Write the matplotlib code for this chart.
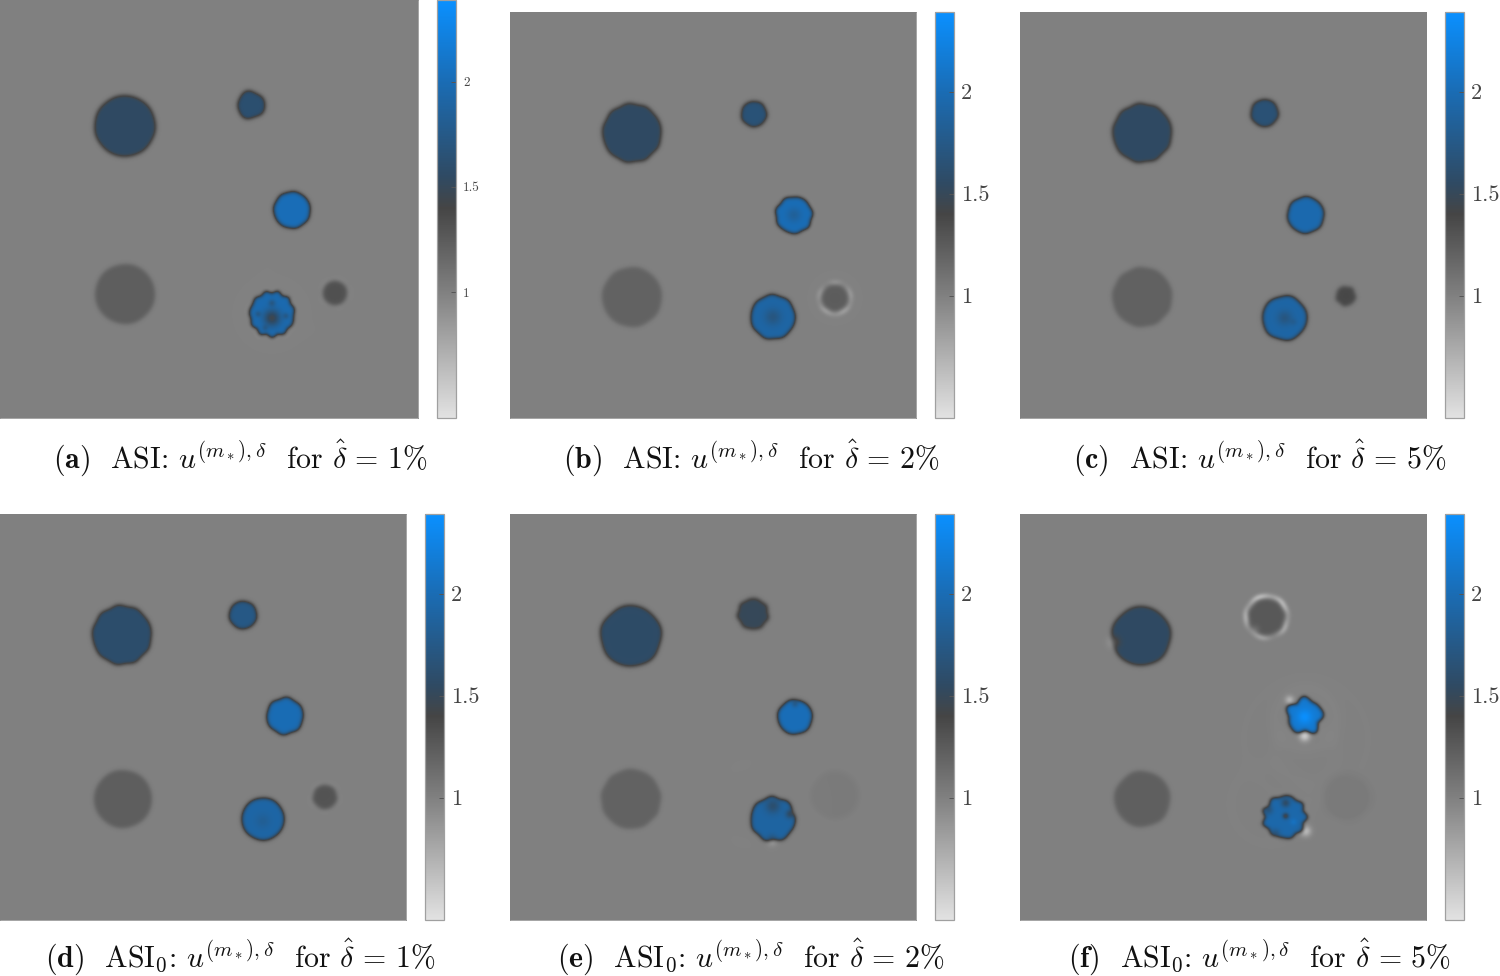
import numpy as np
import matplotlib
matplotlib.use('Agg')
import matplotlib.pyplot as plt
from matplotlib.colors import LinearSegmentedColormap, Normalize
from matplotlib.cm import ScalarMappable

plt.rcParams['mathtext.fontset'] = 'cm'

# colour scale
vmin, vmax = 0.40, 2.39
cmap_values = [0.40, 1.0, 1.40, 1.55, 2.0, 2.39]
cmap_colors = ['#e2e2e2', '#808080', '#454545', '#2f4a63', '#1a6cb4', '#0a90ff']
cbar_ticks = [1, 1.5, 2]
cbar_labels = ['1', '1.5', '2']
background = 1.0

# blobs: cx, cy, radius, value, wobble amplitude, wobble count, white-ring strength (image pixels)
blobs_a = [(125, 126, 31, 1.55, .004, 7, 0), (251, 105, 14, 1.62, .05, 3, 0), (292, 210, 18, 2.02, .01, 7, 0),
           (125, 294, 30, 1.23, .005, 5, 0), (272, 314, 22, 1.98, .035, 11, .05), (335, 293, 12, 1.32, .005, 4, .03)]
blobs_b = [(122, 121, 30, 1.55, .012, 9, 0), (244, 102, 13, 1.66, .015, 5, 0), (284, 203, 18, 2.02, .025, 7, .03),
           (122, 285, 30, 1.20, .006, 7, 0), (263, 305, 22, 1.92, .015, 7, 0), (325, 286, 13, 1.24, .012, 5, .22)]
blobs_c = [(122, 121, 30, 1.55, .012, 9, 0), (244, 101, 14, 1.65, .015, 5, 0), (285, 203, 18, 1.97, .015, 6, 0),
           (122, 285, 30, 1.21, .008, 9, 0), (264, 306, 22, 1.92, .018, 5, 0), (325, 284, 10, 1.38, .03, 5, 0)]
blobs_d = [(122, 121, 30, 1.60, .014, 9, 0), (243, 101, 14, 1.74, .01, 5, 0), (285, 202, 18, 2.0, .025, 6, 0),
           (123, 285, 29, 1.23, .005, 5, 0), (263, 305, 21, 1.92, .006, 5, 0), (325, 283, 12, 1.30, .015, 5, .03)]
blobs_e = [(121, 122, 31, 1.57, .015, 5, 0), (243, 100, 16, 1.50, .025, 7, 0), (285, 203, 17, 2.02, .015, 5, 0),
           (121, 285, 30, 1.20, .008, 9, 0), (263, 305, 22, 1.90, .025, 7, 0), (325, 281, 24, 1.035, .006, 3, 0)]
blobs_f = [(121, 122, 30, 1.55, .012, 5, 0), (246, 103, 18, 1.27, .012, 7, .45), (284, 202, 17, 2.15, .10, 5, .03),
           (122, 285, 28, 1.22, .012, 5, 0), (264, 303, 21, 1.95, .05, 9, .03), (326, 283, 23, 1.04, .006, 3, -.015)]

# small interior spots: cx, cy, radius, value change
spots_a = [(272, 318, 8, -.55), (272, 303, 3, -.3), (258, 314, 2.5, -.3), (286, 316, 2.5, -.3), (265, 328, 2.5, -.25)]
spots_b = [(263, 305, 8, -.22), (284, 203, 7, -.18)]
spots_c = [(264, 306, 7, -.22), (273, 310, 3, -.12)]
spots_d = [(263, 307, 7, -.10)]
spots_e = [(263, 292, 7, -.30), (280, 300, 4, -.4), (262, 326, 5, -.25), (285, 190, 3, -.3)]
spots_f = [(284, 203, 7, .25), (265, 302, 2.5, -.8), (273, 308, 3, .15), (248, 296, 4, -.3),
           (284, 222, 5, -.5), (269, 186, 4, -.35), (285, 317, 5, -.4), (265, 289, 4, -.45),
           (255, 319, 4, -.25), (94, 128, 6, -.2), (235, 115, 4, -.12)]

# faint wide ripples left round the blobs: cx, cy, radius, value change
ripples_a = [(272, 314, 34, .008), (310, 285, 46, .004)]
ripples_b = [(325, 286, 22, .008)]
ripples_c = []
ripples_d = [(310, 260, 36, .003)]
ripples_e = [(263, 290, 50, .004), (220, 290, 40, .003)]
ripples_f = [(285, 225, 62, .006), (250, 290, 40, .007), (285, 205, 30, .018), (285, 240, 30, .010)]

sizes = [418, 406, 406, 406, 406, 406]
panel_left = [0, 510, 1020, 0, 510, 1020]
panel_top = [0, 12, 12, 514, 514, 514]
captions = [
    r'$\mathbf{(a)}$  ASI: $u^{(m_*),\delta}$  for $\hat{\delta}\,=\,1\%$',
    r'$\mathbf{(b)}$  ASI: $u^{(m_*),\delta}$  for $\hat{\delta}\,=\,2\%$',
    r'$\mathbf{(c)}$  ASI: $u^{(m_*),\delta}$  for $\hat{\delta}\,=\,5\%$',
    r'$\mathbf{(d)}$  ASI$_0$: $u^{(m_*),\delta}$  for $\hat{\delta}\,=\,1\%$',
    r'$\mathbf{(e)}$  ASI$_0$: $u^{(m_*),\delta}$  for $\hat{\delta}\,=\,2\%$',
    r'$\mathbf{(f)}$  ASI$_0$: $u^{(m_*),\delta}$  for $\hat{\delta}\,=\,5\%$',
]
caption_x = [240, 751, 1260, 240, 751, 1260]
caption_y = [468, 468, 468, 967, 967, 967]

W, H = 1500, 976
fig = plt.figure(figsize=(W / 100, H / 100), dpi=100, facecolor='white')
stops = [(v - vmin) / (vmax - vmin) for v in cmap_values]
cmap = LinearSegmentedColormap.from_list('greyblue', list(zip(stops, cmap_colors)), N=512)
norm = Normalize(vmin, vmax)


def rect(x, y, w, h):
    return [x / W, 1 - (y + h) / H, w / W, h / H]


def soften(a, sigma=1.3):
    t = np.arange(-5, 6)
    k = np.exp(-(t / sigma) ** 2 / 2)
    k /= k.sum()
    pad = np.pad(a, 5, mode='edge')
    pad = np.apply_along_axis(lambda v: np.convolve(v, k, mode='same'), 0, pad)
    pad = np.apply_along_axis(lambda v: np.convolve(v, k, mode='same'), 1, pad)
    return pad[5:-5, 5:-5]


def build_field(size, blobs, spots, ripples):
    yy, xx = np.mgrid[0:size, 0:size] + 0.5
    field = np.full((size, size), background, dtype=float)
    for cx, cy, r, val, amp, n, ring in blobs:
        d = np.hypot(xx - cx, yy - cy)
        th = np.arctan2(yy - cy, xx - cx)
        rr = r * (1 + amp * np.cos(n * th + cx) + 0.5 * amp * np.sin((n + 2) * th + cy))
        mask = 0.5 * (1 - np.tanh((d - rr) / 1.8))
        field += (val - background) * mask
        if ring:
            arc = 0.55 + 0.45 * np.cos(2 * th + cx) * np.cos(3 * th + cy)
            field -= ring * np.exp(-((d - rr - 3.0) / 2.4) ** 2) * arc
    for cx, cy, r, dv in spots:
        d = np.hypot(xx - cx, yy - cy)
        field += dv * np.exp(-(d / max(r, .5)) ** 2)
    for cx, cy, r, dv in ripples:
        d = np.hypot(xx - cx, yy - cy)
        field -= dv * np.exp(-((d - r) / 9.0) ** 2)
    return soften(field)


all_blobs = [blobs_a, blobs_b, blobs_c, blobs_d, blobs_e, blobs_f]
all_spots = [spots_a, spots_b, spots_c, spots_d, spots_e, spots_f]
all_ripples = [ripples_a, ripples_b, ripples_c, ripples_d, ripples_e, ripples_f]
tick_size = [9.5, 16, 16, 16, 16, 16]

for i in range(6):
    s, x0, y0 = sizes[i], panel_left[i], panel_top[i]
    ax = fig.add_axes(rect(x0, y0, s, s))
    ax.imshow(build_field(s, all_blobs[i], all_spots[i], all_ripples[i]),
              cmap=cmap, norm=norm, interpolation='bilinear', aspect='auto')
    ax.set_xticks([])
    ax.set_yticks([])
    for sp in ax.spines.values():
        sp.set_color('#808080')
        sp.set_linewidth(.5)

    cax = fig.add_axes(rect(x0 + s + 19, y0, 19, s))
    cb = fig.colorbar(ScalarMappable(norm=norm, cmap=cmap), cax=cax)
    cb.set_ticks(cbar_ticks)
    cb.set_ticklabels(cbar_labels)
    cb.ax.tick_params(direction='in', length=3.5, width=.7, color='#555555', labelcolor='#444444',
                      labelsize=tick_size[i], pad=5)
    for lab in cb.ax.get_yticklabels():
        lab.set_family('cmr10')
    cb.outline.set_edgecolor('#a0a0a0')
    cb.outline.set_linewidth(.9)

    fig.text(caption_x[i] / W, 1 - caption_y[i] / H, captions[i], ha='center', va='baseline',
             fontsize=21.5, family='cmr10', color='#111111')

fig.savefig('out.png', dpi=100)
